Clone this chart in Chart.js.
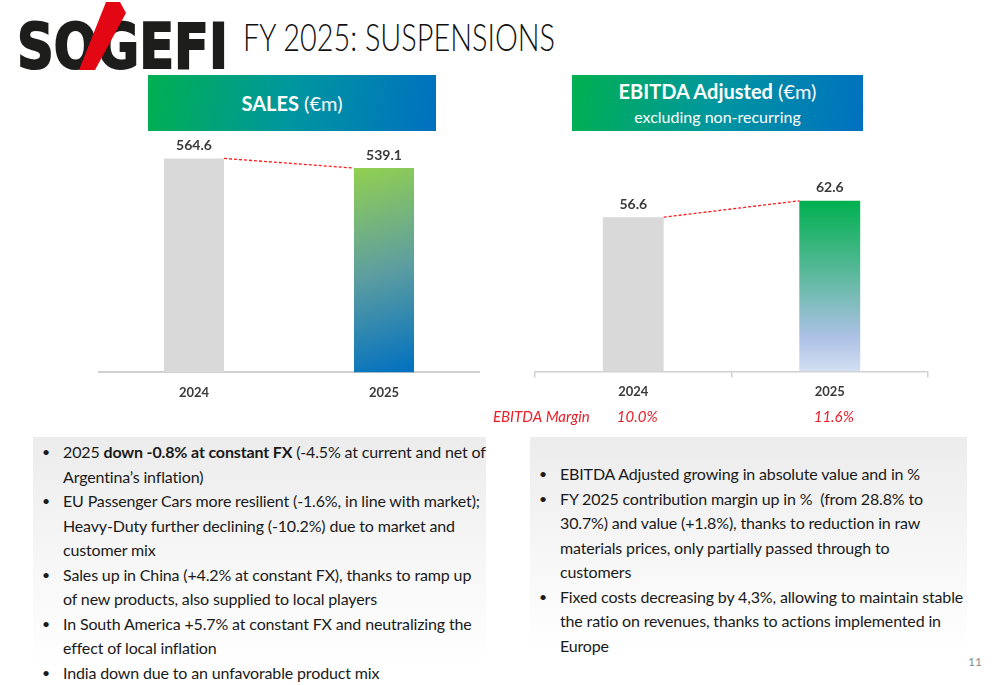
<!DOCTYPE html>
<html>
<head>
<meta charset="utf-8">
<script src="https://cdn.jsdelivr.net/npm/chart.js@4.4.1/dist/chart.umd.min.js"></script>
<style>
  html, body { margin: 0; padding: 0; background: #fff; }
  body { width: 1000px; height: 685px; position: relative; overflow: hidden; font-family: Lato, "Open Sans", sans-serif; color: #1a1a1a; }
  .abs { position: absolute; }
  .title { left: 243px; top: 14px; font-size: 37px; font-weight: 300; color: #111; white-space: nowrap; transform: scaleX(0.78); transform-origin: left top; }
  .hbox { background: linear-gradient(100deg, #00b050 0%, #0096a0 50%, #0070c0 100%); color: #fff; text-align: center; }
  .panel { background: linear-gradient(180deg, #ececec 0%, #f6f6f6 50%, #ffffff 100%); }
  ul { list-style: none; margin: 0; padding: 0; }
  li { position: relative; padding-left: 24px; font-size: 16px; line-height: 24.5px; letter-spacing: -0.15px; }
  li::before { content: "\2022"; position: absolute; left: 3px; font-size: 14px; }
  .pg { left: 968px; top: 654px; font-size: 12px; color: #8c8c8c; }
</style>
</head>
<body>
<svg class="abs" style="left:0;top:0" width="240" height="78">
  <text x="17" y="68" font-family="DejaVu Sans" font-weight="bold" font-size="62" textLength="211" lengthAdjust="spacingAndGlyphs" fill="#1d1d1b" stroke="#1d1d1b" stroke-width="2">SOGEFI</text>
  <polygon points="106,2 120,2 126,13 95,70 79,70" fill="#e30613"/>
</svg>
<div class="abs title">FY 2025: SUSPENSIONS</div>

<div class="abs hbox" style="left:148px;top:75px;width:288px;height:56px;line-height:56px;font-size:20px;"><b>SALES</b> (€m)</div>
<div class="abs hbox" style="left:572px;top:75px;width:291px;height:56px;">
  <div style="font-size:20px;line-height:20px;margin-top:6px;"><b>EBITDA Adjusted</b> (€m)</div>
  <div style="font-size:16px;line-height:20px;margin-top:6px;">excluding non-recurring</div>
</div>

<canvas id="salesChart" class="abs" style="left:60px;top:125px;" width="440" height="290"></canvas>
<canvas id="ebitdaChart" class="abs" style="left:480px;top:147px;" width="480" height="290"></canvas>

<div class="abs panel" style="left:33px;top:437px;width:453px;height:230px;"></div>
<ul class="abs" style="left:39px;top:440px;width:448px;">
  <li>2025 <b>down -0.8% at constant FX</b> (-4.5% at current and net of Argentina’s inflation)</li>
  <li>EU Passenger Cars more resilient (-1.6%, in line with market); Heavy-Duty further declining (-10.2%) due to market and customer mix</li>
  <li>Sales up in China (+4.2% at constant FX), thanks to ramp up of new products, also supplied to local players</li>
  <li>In South America +5.7% at constant FX and neutralizing the effect of local inflation</li>
  <li>India down due to an unfavorable product mix</li>
</ul>

<div class="abs panel" style="left:530px;top:437px;width:437px;height:215px;"></div>
<ul class="abs" style="left:536px;top:462px;width:440px;">
  <li>EBITDA Adjusted growing in absolute value and in %</li>
  <li>FY 2025 contribution margin up in %&nbsp; (from 28.8% to<br>30.7%) and value (+1.8%), thanks to reduction in raw materials prices, only partially passed through to<br>customers</li>
  <li>Fixed costs decreasing by 4,3%, allowing to maintain stable the ratio on revenues, thanks to actions implemented in Europe</li>
</ul>
<div class="abs pg">11</div>

<script>
// data
const years = ['2024', '2025'];
const salesValues = [564.6, 539.1];
const ebitdaValues = [56.6, 62.6];
const ebitdaMargins = [10.0, 11.6];

const grey = '#d9d9d9';
const labelColor = '#3a3a3a';

// value labels + red dashed connector + gradient on the 2025 bar
const barDecor = {
  id: 'barDecor',
  beforeDatasetsDraw(chart, args, opts) {
    const bar = chart.getDatasetMeta(0).data[1];
    const ctx = chart.ctx;
    const left = bar.x - bar.width / 2, right = bar.x + bar.width / 2;
    let g;
    if (opts.diagonal) {
      g = ctx.createLinearGradient(left, bar.y, right, bar.base);
      g.addColorStop(0, '#92d050');
      g.addColorStop(0.5, '#5e9ea0');
      g.addColorStop(1, '#0070c0');
    } else {
      g = ctx.createLinearGradient(0, bar.y, 0, bar.base);
      g.addColorStop(0, '#00b050');
      g.addColorStop(0.4, '#55b896');
      g.addColorStop(0.8, '#adc1e6');
      g.addColorStop(1, '#d3dff2');
    }
    // options object is shared between bars, so give this one its own copy
    bar.options = Object.assign({}, bar.options, { backgroundColor: g });
  },
  afterDatasetsDraw(chart, args, opts) {
    const ctx = chart.ctx;
    const bars = chart.getDatasetMeta(0).data;
    const vals = chart.data.datasets[0].data;
    ctx.save();
    ctx.fillStyle = labelColor;
    ctx.font = 'bold 14px Lato';
    ctx.textAlign = 'center';
    ctx.textBaseline = 'bottom';
    bars.forEach((b, i) => ctx.fillText(vals[i].toFixed(1), b.x, b.y - 6));
    // connector
    const a = bars[0], c = bars[1];
    ctx.strokeStyle = '#ff1a1a';
    ctx.lineWidth = 1.3;
    ctx.setLineDash([3, 2]);
    ctx.beginPath();
    ctx.moveTo(a.x + a.width / 2, a.y);
    ctx.lineTo(c.x - c.width / 2, c.y);
    ctx.stroke();
    ctx.restore();
    if (opts.margins) {
      const x = chart.scales.x;
      ctx.save();
      ctx.fillStyle = '#e8202a';
      ctx.font = 'italic 15px Lato';
      ctx.textBaseline = 'middle';
      const y = chart.chartArea.bottom + 46;
      ctx.textAlign = 'left';
      ctx.fillText('EBITDA Margin', chart.chartArea.left - 42, y);
      ctx.textAlign = 'center';
      opts.margins.forEach((m, i) => ctx.fillText(m.toFixed(1) + '%', x.getPixelForValue(i) + 4, y));
      ctx.restore();
    }
  }
};

new Chart(document.getElementById('salesChart'), {
  type: 'bar',
  data: {
    labels: years,
    datasets: [{ data: salesValues, backgroundColor: grey, barPercentage: 0.316, categoryPercentage: 1 }]
  },
  options: {
    responsive: false,
    animation: false,
    layout: { padding: { left: 39, right: 21, top: 20, bottom: 1 } },
    plugins: { legend: { display: false }, tooltip: { enabled: false }, barDecor: { diagonal: true } },
    scales: {
      x: {
        grid: { display: false, drawTicks: false },
        border: { color: '#d0d0d0', width: 2 },
        ticks: { color: labelColor, font: { family: 'Lato', size: 13, weight: 'bold' }, padding: 13 }
      },
      y: { display: false, min: 0, max: 600 }
    }
  },
  plugins: [barDecor]
});

new Chart(document.getElementById('ebitdaChart'), {
  type: 'bar',
  data: {
    labels: years,
    datasets: [{ data: ebitdaValues, backgroundColor: grey, barPercentage: 0.31, categoryPercentage: 1 }]
  },
  options: {
    responsive: false,
    animation: false,
    layout: { padding: { left: 55, right: 32, top: 20, bottom: 30 } },
    plugins: { legend: { display: false }, tooltip: { enabled: false }, barDecor: { margins: ebitdaMargins } },
    scales: {
      x: {
        grid: { display: true, drawOnChartArea: false, drawTicks: true, tickLength: 6, color: '#d0d0d0', lineWidth: 1.5 },
        border: { color: '#d0d0d0', width: 1.5 },
        ticks: { color: labelColor, font: { family: 'Lato', size: 13, weight: 'bold' }, padding: 7 }
      },
      y: { display: false, min: 0, max: 75 }
    }
  },
  plugins: [barDecor]
});
</script>
</body>
</html>
